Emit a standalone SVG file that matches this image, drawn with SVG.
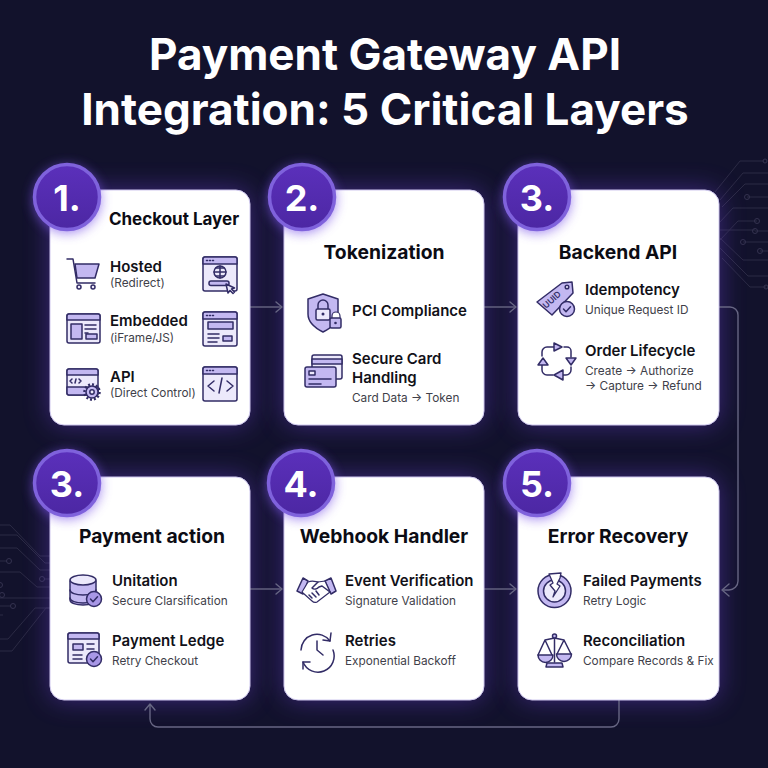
<svg xmlns="http://www.w3.org/2000/svg" width="768" height="768" viewBox="0 0 768 768">
<style>
text{font-family:Inter,"Noto Sans","Liberation Sans",sans-serif}
.title{font-size:44px;font-weight:700;fill:#fff;text-anchor:middle}
.h{font-size:19.300px;font-weight:700;fill:#0c0c14;text-anchor:middle}
.b{font-size:15px;font-weight:600;fill:#111118}
.s{font-size:11.800px;fill:#3f3f4a}
.n{font-size:36px;font-weight:700;fill:#fff;text-anchor:middle}
.card{fill:#fff;stroke:#cfc8ee;stroke-width:1}
.glow{fill:#6a3fd0;opacity:.5;filter:url(#blur)}
.badge{fill:url(#bg);stroke:#7f62dc;stroke-width:3.5}
.badgeglow{fill:#7a52e8;opacity:.7;filter:url(#blur2)}
.c{fill:none;stroke:#676683;stroke-width:1.4}
.ca{fill:none;stroke:#676683;stroke-width:1.4;stroke-linecap:round;stroke-linejoin:round}
.t{fill:none;stroke:#2b2a44;stroke-width:1}
.td{fill:none;stroke:#34324f;stroke-width:1}
.i{fill:none;stroke:#322c66;stroke-width:1.5;stroke-linejoin:round;stroke-linecap:round}
.f{fill:#c3b8f1;stroke:#322c66;stroke-width:1.5;stroke-linejoin:round;stroke-linecap:round}
.l{fill:#ece9fb;stroke:#322c66;stroke-width:1.5;stroke-linejoin:round;stroke-linecap:round}
.w{fill:#fff;stroke:#322c66;stroke-width:1.200;stroke-linejoin:round;stroke-linecap:round}
.d{fill:#322c66}
</style>
<defs>
<linearGradient id="bg" x1="0" y1="0" x2="0" y2="1"><stop offset="0" stop-color="#5b30bb"/><stop offset="1" stop-color="#4c27a3"/></linearGradient>
<filter id="blur" x="-30%" y="-30%" width="160%" height="160%"><feGaussianBlur stdDeviation="13"/></filter>
<filter id="blur2" x="-50%" y="-50%" width="200%" height="200%"><feGaussianBlur stdDeviation="6"/></filter>
<g id="win"><rect x="0" y="0" width="34" height="34" rx="2" class="l"/><path d="M0 7V2a2 2 0 0 1 2-2h30a2 2 0 0 1 2 2v5z" class="f"/><path d="M3.500 3.500h1M6.500 3.500h1M9.500 3.500h1" class="i" stroke-width="1"/></g>
<g id="check"><circle cx="0" cy="0" r="7.500" fill="#a897e6" stroke="#322c66" stroke-width="1.500"/><path d="M-3.500 0l2.500 2.700 4.500-5" class="i"/></g>
</defs>
<rect width="768" height="768" fill="#12122c"/>

<g id="circuits">
<path class="t" d="M715 192l25-31h24M720 200l23-27h25M722 207l23-23h23M720 222l13-14h35M720 240l18-19h19M720 230h35M747 197h21M755 231h13M743 242h25M760 251h8M720 238l23 22h25M720 248l28 28h20M722 258l28 29h16"/>
<circle class="td" cx="765" cy="161" r="2"/><circle class="td" cx="747" cy="197" r="2.500"/><circle class="td" cx="757" cy="221" r="2.500"/><circle class="td" cx="755" cy="231" r="2.500"/><circle class="td" cx="743" cy="242" r="2.500"/><circle class="td" cx="760" cy="251" r="2.500"/><circle class="td" cx="766" cy="287" r="2"/>
<path class="t" d="M0 525h10l30 31h10M0 535h17l28 28h5M0 548h17l23 22h10M0 561h7M0 572h20l17 15h13M44 579h6M0 598h50M0 606h11M0 615h3M0 639h8l27-31h15M0 651h12l34-43h4"/>
<circle class="td" cx="9" cy="561" r="2.500"/><circle class="td" cx="42" cy="579" r="2.500"/><circle class="td" cx="0" cy="585" r="2.500"/><circle class="td" cx="2" cy="595" r="2.500"/><circle class="td" cx="13" cy="606" r="2.500"/>
</g>

<text class="title" x="385" y="70">Payment Gateway API</text>
<text class="title" x="385" y="125">Integration: 5 Critical Layers</text>

<g id="glows">
<rect class="glow" x="50" y="190" width="200" height="235" rx="14"/>
<rect class="glow" x="284" y="190" width="200" height="235" rx="14"/>
<rect class="glow" x="518" y="190" width="201" height="235" rx="14"/>
<rect class="glow" x="50" y="477" width="200" height="223" rx="14"/>
<rect class="glow" x="284" y="477" width="200" height="223" rx="14"/>
<rect class="glow" x="518" y="477" width="201" height="223" rx="14"/>
</g>

<g id="connectors">
<path class="c" d="M250 307H282"/><path class="ca" d="M276 302l6 5-6 5"/>
<path class="c" d="M484 307H516"/><path class="ca" d="M510 302l6 5-6 5"/>
<path class="c" d="M719 307H730a8 8 0 0 1 8 8V581a9 9 0 0 1-9 9H723"/><path class="ca" d="M729 584l-7 6 7 6"/>
<path class="c" d="M250 589H282"/><path class="ca" d="M276 584l6 5-6 5"/>
<path class="c" d="M484 589H516"/><path class="ca" d="M510 584l6 5-6 5"/>
<path class="c" d="M619 700V719a8 8 0 0 1-8 8H158a8 8 0 0 1-8-8V705"/><path class="ca" d="M145 710l5-6 5 6"/>
</g>

<g id="node1">
<rect class="card" x="50" y="190" width="200" height="235" rx="14"/>
<circle class="badgeglow" cx="67" cy="199" r="34"/><circle class="badge" cx="67" cy="197" r="32.500"/>
<text class="n" x="67" y="211">1.</text>
<text class="h" x="174" y="225" style="font-size:17px">Checkout Layer</text>
<path class="f" d="M75 264H99L95 278H77Z"/><path class="i" d="M67 259h6l4 24h18"/><circle class="l" cx="79" cy="287" r="2"/><circle class="l" cx="93" cy="287" r="2"/>
<text class="b" x="110" y="272">Hosted</text><text class="s" x="110" y="287">(Redirect)</text>
<rect class="l" x="67" y="314" width="33" height="29" rx="2"/><path class="f" d="M67 320v-4a2 2 0 0 1 2-2h29a2 2 0 0 1 2 2v4zM71 324h11v15h-11z"/><path class="i" d="M85 325h11M85 329h11M85 333h3"/><rect class="f" x="86" y="334" width="11" height="5"/>
<text class="b" x="110" y="326">Embedded</text><text class="s" x="110" y="342">(iFrame/JS)</text>
<rect class="l" x="67" y="369" width="31" height="26" rx="2"/><path class="f" d="M67 375v-4a2 2 0 0 1 2-2h27a2 2 0 0 1 2 2v4zM67 387h31v6a2 2 0 0 1-2 2h-27a2 2 0 0 1-2-2z"/><path class="i" d="M72 383l-2-2 2-2M76 379l-1 4M79 379l2 2-2 2" stroke-width="1"/>
<circle class="f" cx="92" cy="392" r="6"/><circle cx="92" cy="392" r="7.500" fill="none" stroke="#322c66" stroke-width="2.500" stroke-dasharray="2 1.900"/><circle class="l" cx="92" cy="392" r="2.200"/>
<text class="b" x="110" y="382">API</text><text class="s" x="110" y="397">(Direct Control)</text>
<use href="#win" x="203" y="257"/><circle class="l" cx="220" cy="272" r="6"/><path class="i" d="M214 272h12M220 266v12M216 268h8M216 276h8" stroke-width="1"/><rect class="f" x="209" y="281" width="20" height="4.500" rx="2"/><path class="l" d="M226 284l2 9 2-2.500 3 3 1.500-1.500-3-3 3-1z"/>
<use href="#win" x="203" y="312"/><rect class="f" x="208" y="322" width="25" height="7"/><path class="i" d="M208 334h11M208 338h11M208 342h9"/><rect class="f" x="223" y="336" width="9" height="5"/>
<use href="#win" x="203" y="367"/><path d="M214 381l-6 5 6 5M227 381l6 5-6 5M222 378l-3 15" class="i" stroke-width="1.800"/>
</g>

<g id="node2">
<rect class="card" x="284" y="190" width="200" height="235" rx="14"/>
<circle class="badgeglow" cx="302" cy="199" r="34"/><circle class="badge" cx="302" cy="197" r="32.500"/>
<text class="n" x="302" y="211">2.</text>
<text class="h" x="384" y="259">Tokenization</text>
<path class="f" d="M323 294l15 5v15c0 9-7 14-15 18-8-4-15-9-15-18v-15z"/><path class="i" d="M318 309v-4a5 5 0 0 1 10 0v4"/><rect class="l" x="316" y="309" width="14" height="11" rx="1.500"/><circle class="d" cx="323" cy="314" r="1.500"/>
<path class="w" d="M332 319v-3a4 4 0 0 1 8 0v3"/><rect class="f" x="330" y="318" width="11" height="10" rx="1.500"/><circle class="d" cx="335.500" cy="323" r="1.300"/>
<rect class="l" x="312" y="355" width="30" height="24" rx="2"/><path class="f" d="M312 359h30v5h-30z"/>
<rect class="f" x="305" y="367" width="31" height="20" rx="2"/><rect class="l" x="309" y="371" width="6" height="4"/><path class="i" d="M309 379h22M309 384h12" stroke-width="1"/>
<text class="b" x="352" y="316">PCI Compliance</text>
<text class="b" x="352" y="364">Secure Card</text><text class="b" x="352" y="383">Handling</text>
<text class="s" x="352" y="402">Card Data → Token</text>
</g>

<g id="node3">
<rect class="card" x="518" y="190" width="201" height="235" rx="14"/>
<circle class="badgeglow" cx="537" cy="199" r="34"/><circle class="badge" cx="537" cy="197" r="32.500"/>
<text class="n" x="537" y="211">3.</text>
<text class="h" x="618" y="259">Backend API</text>
<path class="f" d="M537 302L562 283l10-1 1 11L552 315z"/><circle class="l" cx="567" cy="287" r="1.800"/>
<text transform="translate(546 309) rotate(-42)" style="font-size:8.500px;font-weight:600;fill:#322c66">UUID</text>
<circle class="f" cx="567" cy="309" r="7.500"/><path class="i" d="M563.500 309l2.500 2.700 4.500-5"/>
<path class="i" d="M542 356v-4a5 5 0 0 1 5-5h7M564 347h3a4 4 0 0 1 4 4v6M571 367v3a5 5 0 0 1-5 5h-5M553 375h-6a5 5 0 0 1-5-5v-5"/>
<path class="f" d="M554 343l8 4-8 4zM566 358h10l-5 7zM563 370l-9 5 9 5zM538 365h10l-5-7z"/>
<text class="b" x="585" y="295">Idempotency</text><text class="s" x="585" y="314">Unique Request ID</text>
<text class="b" x="585" y="356">Order Lifecycle</text><text class="s" x="585" y="375">Create → Authorize</text><text class="s" x="585" y="390">→ Capture → Refund</text>
</g>

<g id="node4">
<rect class="card" x="50" y="477" width="200" height="223" rx="14"/>
<circle class="badgeglow" cx="67" cy="485" r="34"/><circle class="badge" cx="67" cy="483" r="32.500"/>
<text class="n" x="67" y="497">3.</text>
<text class="h" x="152" y="543">Payment action</text>
<path class="f" d="M70 581v19c0 3 6 5 13 5s13-2 13-5v-19z"/><path class="i" d="M70 590c0 3 6 5 13 5s13-2 13-5M70 598c0 3 6 5 13 5s13-2 13-5"/><ellipse class="l" cx="83" cy="580" rx="13" ry="5"/>
<use href="#check" x="94" y="599"/>
<rect class="l" x="68" y="633" width="31" height="30" rx="2"/><path class="f" d="M68 639v-4a2 2 0 0 1 2-2h27a2 2 0 0 1 2 2v4z"/><rect class="f" x="73" y="644" width="10" height="6"/><path class="i" d="M87 644h7M87 649h7M73 655h9M73 659h9"/>
<use href="#check" x="94" y="659"/>
<text class="b" x="112" y="586">Unitation</text><text class="s" x="112" y="605">Secure Clarsification</text>
<text class="b" x="112" y="646">Payment Ledge</text><text class="s" x="112" y="665">Retry Checkout</text>
</g>

<g id="node5">
<rect class="card" x="284" y="477" width="200" height="223" rx="14"/>
<circle class="badgeglow" cx="301" cy="485" r="34"/><circle class="badge" cx="301" cy="483" r="32.500"/>
<text class="n" x="301" y="497">4.</text>
<text class="h" x="384" y="543">Webhook Handler</text>
<path class="f" d="M297 591l6-13 5 3-5 13zM325 581l6-3 5 13-5 3z"/><path class="w" d="M308 582c5-2 8 0 10 0l7-1 5 11-13 10c-2 1-4 0-5-1l-9-8-1-1z"/><path class="i" d="M318 582l-6 6c2 2 5 1 7-1l3-1 8 6M309 595l3 3M312 593l4 4M316 591l3 4" stroke-width="1.100"/>
<path class="i" d="M301 650a16 16 0 0 1 29-9M303 662a16 16 0 0 0 30-12M317 641v9l6 5" stroke-width="1.600"/><path class="i" d="M331 633l-1 8-7-1M303 669l0-7 7 0" stroke-width="1.600"/>
<text class="b" x="345" y="586">Event Verification</text><text class="s" x="345" y="605">Signature Validation</text>
<text class="b" x="345" y="646">Retries</text><text class="s" x="345" y="665">Exponential Backoff</text>
</g>

<g id="node6">
<rect class="card" x="518" y="477" width="201" height="223" rx="14"/>
<circle class="badgeglow" cx="537" cy="485" r="34"/><circle class="badge" cx="537" cy="483" r="32.500"/>
<text class="n" x="537" y="497">5.</text>
<text class="h" x="618" y="543">Error Recovery</text>
<circle class="f" cx="554.500" cy="591" r="16.500"/><circle class="l" cx="554.500" cy="591" r="11"/>
<path d="M549 574l4 9-3 2 5 6-2 6 7-11-3-2 3-6 1-5z" fill="#fff" stroke="#322c66" stroke-width="1.300" stroke-linejoin="round"/>
<path class="i" d="M554.500 636v26M545 640l9.500-2 9.500 2M545 640l-7 15M545 640l7 15M564 640l-7 14M564 640l7 14"/><path class="f" d="M538 655h15a7.500 7.500 0 0 1-15 0zM556.500 654h15a7.500 7.500 0 0 1-15 0z"/><path class="f" d="M547 663h15l1 4h-17z"/><circle class="f" cx="554.500" cy="636" r="2"/>
<text class="b" x="583" y="586">Failed Payments</text><text class="s" x="583" y="605">Retry Logic</text>
<text class="b" x="583" y="646">Reconciliation</text><text class="s" x="583" y="665">Compare Records &amp; Fix</text>
</g>
</svg>
